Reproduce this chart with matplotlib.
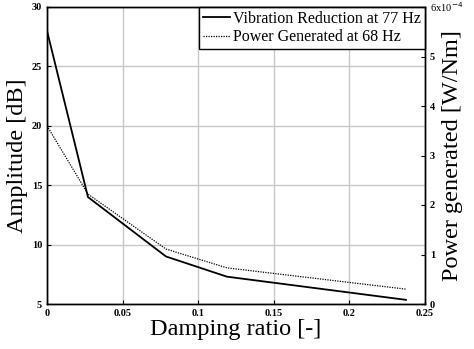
import matplotlib
matplotlib.use("Agg")
import matplotlib.pyplot as plt
from matplotlib.ticker import FuncFormatter

damping = [0.0, 0.0271, 0.0787, 0.119, 0.2374]
amplitude_db = [28.0, 14.0, 9.0, 7.3, 5.35]
power_wnm = [3.6e-4, 2.22e-4, 1.11e-4, 0.73e-4, 0.30e-4]

xticks = [0, 0.05, 0.1, 0.15, 0.2, 0.25]
xticklabels = ["0", "0.05", "0.1", "0.15", "0.2", "0.25"]
yticks_left = [5, 10, 15, 20, 25, 30]
yticks_right = [0, 1e-4, 2e-4, 3e-4, 4e-4, 5e-4, 6e-4]

plt.rcParams['font.family'] = ['Liberation Serif', 'DejaVu Serif']

fig = plt.figure(figsize=(4.74, 3.49), dpi=100)
ax = fig.add_axes([47/474, 1 - 304/349, (425-47)/474, (304-7)/349])
ax2 = ax.twinx()

l1, = ax.plot(damping, amplitude_db, color='black', lw=1.3, label='Vibration Reduction at 77 Hz')
l2, = ax2.plot(damping, power_wnm, color='black', lw=0.9, ls=(0, (1, 1)), label='Power Generated at 68 Hz')

ax.set_xlim(0, 0.25)
ax.set_ylim(5, 30)
ax2.set_ylim(0, 6e-4)
ax.set_xticks(xticks)
ax.set_xticklabels(xticklabels)
ax.set_yticks(yticks_left)
ax.set_yticklabels([str(v) for v in yticks_left])
ax2.set_yticks(yticks_right)

def rfmt(v, pos):
    n = int(round(v * 1e4))
    if n == 6:
        return ""
    return str(n)
ax2.yaxis.set_major_formatter(FuncFormatter(rfmt))
ax2.text(1.0, 1.0, "  6x10$^{-4}$", transform=ax2.transAxes, fontsize=7.5,
         ha='left', va='center')

ax.grid(True, color='#c8c8c8', lw=1.0)
ax.set_axisbelow(True)

for a in (ax, ax2):
    a.tick_params(direction='in', length=3, width=0.8, labelsize=7.5)
    for lab in a.get_xticklabels() + a.get_yticklabels():
        lab.set_fontweight('bold')
    for s in a.spines.values():
        s.set_linewidth(1.0)
        s.set_color('black')

ax.set_xlabel("Damping ratio [-]", fontsize=17.5, labelpad=1)
ax.set_ylabel("Amplitude [dB]", fontsize=17.5, labelpad=3)
ax2.set_ylabel("Power generated [W/Nm]", fontsize=17.5, labelpad=5)

leg = ax.legend(handles=[l1, l2], loc='upper right', fontsize=11.5,
                frameon=True, fancybox=False, edgecolor='black',
                borderaxespad=0, handlelength=1.7, handletextpad=0.2,
                borderpad=0.25, labelspacing=0.15)
leg.get_frame().set_linewidth(1.0)
leg.get_frame().set_alpha(1.0)

fig.savefig("out.png", dpi=100)
